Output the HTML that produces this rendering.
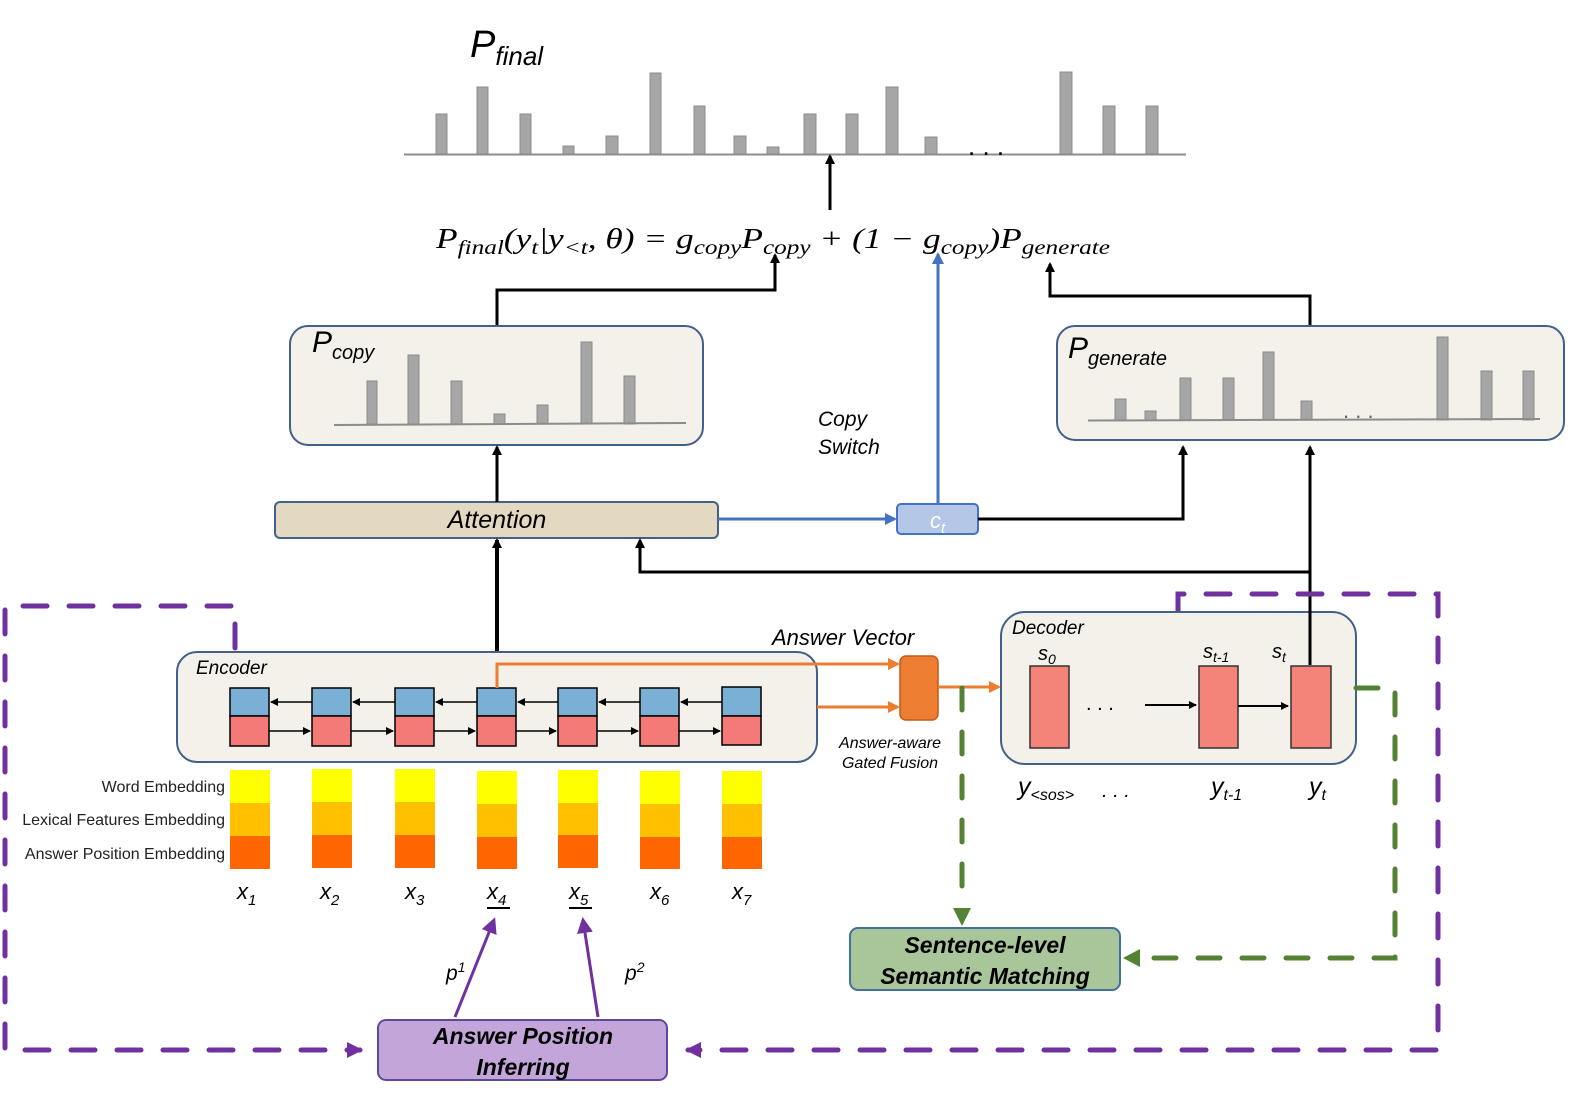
<!DOCTYPE html>
<html><head><meta charset="utf-8"><style>
html,body{margin:0;padding:0;background:#fff;}
svg{display:block;font-family:"Liberation Sans",sans-serif;}
.it{font-style:italic;}
</style></head><body>
<svg width="1578" height="1106" viewBox="0 0 1578 1106" xmlns="http://www.w3.org/2000/svg">
<defs>
<marker id="ak" markerWidth="10" markerHeight="10" refX="8" refY="5" orient="auto" markerUnits="userSpaceOnUse"><path d="M0,0 L10,5 L0,10 z" fill="#000"/></marker>
<marker id="ab" markerWidth="12" markerHeight="12" refX="10" refY="6" orient="auto" markerUnits="userSpaceOnUse"><path d="M0,0 L12,6 L0,12 z" fill="#4472c4"/></marker>
<marker id="ao" markerWidth="12" markerHeight="12" refX="10" refY="6" orient="auto" markerUnits="userSpaceOnUse"><path d="M0,0 L12,6 L0,12 z" fill="#ed7d31"/></marker>
<marker id="ap" markerWidth="16" markerHeight="16" refX="13" refY="8" orient="auto" markerUnits="userSpaceOnUse"><path d="M0,0 L16,8 L0,16 z" fill="#7030a0"/></marker>
<marker id="as" markerWidth="8" markerHeight="8" refX="7" refY="4" orient="auto" markerUnits="userSpaceOnUse"><path d="M0,0 L8,4 L0,8 z" fill="#000"/></marker>
</defs>

<!-- P_final -->
<text x="470" y="57" font-size="38" class="it">P<tspan font-size="26" dy="8">final</tspan></text>
<g fill="#a6a6a6" stroke="#8c8c8c" stroke-width="1">
<rect x="436" y="114" width="11" height="40"/><rect x="477" y="87" width="11" height="67"/>
<rect x="520" y="114" width="11" height="40"/><rect x="563" y="146" width="11" height="8"/>
<rect x="606" y="136" width="12" height="18"/><rect x="650" y="73" width="11" height="81"/>
<rect x="694" y="106" width="11" height="48"/><rect x="734" y="136" width="12" height="18"/>
<rect x="767" y="147" width="12" height="7"/><rect x="804" y="114" width="12" height="40"/>
<rect x="846" y="114" width="12" height="40"/><rect x="886" y="87" width="12" height="67"/>
<rect x="925" y="137" width="12" height="17"/><rect x="1060" y="72" width="12" height="82"/>
<rect x="1103" y="106" width="12" height="48"/><rect x="1146" y="106" width="12" height="48"/>
</g>
<line x1="404" y1="154.5" x2="1186" y2="154.5" stroke="#8c8c8c" stroke-width="2"/>
<text x="968" y="155" font-size="26">. . .</text>
<line x1="830" y1="210" x2="830" y2="156" stroke="#000" stroke-width="3" marker-end="url(#ak)"/>

<!-- formula -->
<text x="436" y="248" font-family="'Liberation Serif',serif" font-size="28" font-style="italic" textLength="674" lengthAdjust="spacingAndGlyphs">P<tspan font-size="20" dy="6">final</tspan><tspan dy="-6">(y</tspan><tspan font-size="20" dy="6">t</tspan><tspan dy="-6">|y</tspan><tspan font-size="20" dy="6">&lt;t</tspan><tspan dy="-6">, θ) = g</tspan><tspan font-size="20" dy="6">copy</tspan><tspan dy="-6">P</tspan><tspan font-size="20" dy="6">copy</tspan><tspan dy="-6"> + (1 − g</tspan><tspan font-size="20" dy="6">copy</tspan><tspan dy="-6">)P</tspan><tspan font-size="20" dy="6">generate</tspan></text>

<!-- connectors to formula -->
<polyline points="497,326 497,290 775,290 775,255" fill="none" stroke="#000" stroke-width="3" marker-end="url(#ak)"/>
<polyline points="1310,326 1310,296 1050,296 1050,264" fill="none" stroke="#000" stroke-width="3" marker-end="url(#ak)"/>
<line x1="938" y1="504" x2="938" y2="254" stroke="#4472c4" stroke-width="3" marker-end="url(#ab)"/>

<!-- Pcopy box -->
<rect x="290" y="326" width="413" height="119" rx="18" fill="#f3f1ea" stroke="#44608a" stroke-width="2"/>
<text x="312" y="352" font-size="30" class="it">P<tspan font-size="20" dy="7">copy</tspan></text>
<g fill="#a6a6a6" stroke="#8c8c8c">
<rect x="367" y="381" width="10" height="43"/><rect x="408" y="355" width="11" height="69"/>
<rect x="451" y="381" width="11" height="43"/><rect x="494" y="414" width="11" height="10"/>
<rect x="537" y="405" width="11" height="19"/><rect x="581" y="342" width="11" height="82"/>
<rect x="624" y="376" width="11" height="48"/>
</g>
<line x1="334" y1="425" x2="686" y2="423" stroke="#8c8c8c" stroke-width="2"/>

<!-- Pgenerate box -->
<rect x="1057" y="326" width="507" height="114" rx="18" fill="#f3f1ea" stroke="#44608a" stroke-width="2"/>
<text x="1068" y="358" font-size="30" class="it">P<tspan font-size="20" dy="7">generate</tspan></text>
<g fill="#a6a6a6" stroke="#8c8c8c">
<rect x="1115" y="399" width="11" height="21"/><rect x="1145" y="411" width="11" height="9"/>
<rect x="1180" y="378" width="11" height="42"/><rect x="1223" y="378" width="11" height="42"/>
<rect x="1263" y="352" width="11" height="68"/><rect x="1301" y="401" width="11" height="19"/>
<rect x="1437" y="337" width="11" height="83"/><rect x="1481" y="371" width="11" height="49"/>
<rect x="1523" y="371" width="11" height="49"/>
</g>
<line x1="1088" y1="420.5" x2="1540" y2="419" stroke="#8c8c8c" stroke-width="2"/>
<text x="1343" y="418" font-size="22" fill="#666">. . .</text>

<text x="818" y="426" font-size="21" class="it">Copy</text>
<text x="818" y="454" font-size="21" class="it">Switch</text>

<!-- Attention -->
<rect x="275" y="502" width="443" height="36" rx="5" fill="#e3d9c0" stroke="#44608a" stroke-width="2"/>
<text x="497" y="528" font-size="25" class="it" text-anchor="middle">Attention</text>
<line x1="497" y1="502" x2="497" y2="447" stroke="#000" stroke-width="3" marker-end="url(#ak)"/>
<line x1="718" y1="519" x2="895" y2="519" stroke="#4472c4" stroke-width="3" marker-end="url(#ab)"/>
<rect x="897" y="504" width="81" height="30" rx="4" fill="#b4c7e7" stroke="#4472c4" stroke-width="2"/>
<text x="930" y="528" font-size="22" fill="#fff" class="it">c<tspan font-size="15" dy="5">t</tspan></text>
<polyline points="978,519 1183,519 1183,447" fill="none" stroke="#000" stroke-width="3" marker-end="url(#ak)"/>
<line x1="1310" y1="665" x2="1310" y2="447" stroke="#000" stroke-width="3" marker-end="url(#ak)"/>
<polyline points="1310,572 640,572 640,540" fill="none" stroke="#000" stroke-width="3" marker-end="url(#ak)"/>
<line x1="497" y1="652" x2="497" y2="540" stroke="#000" stroke-width="4" marker-end="url(#ak)"/>

<!-- purple dashed -->
<g fill="none" stroke="#7030a0" stroke-width="5" stroke-dasharray="24 22" stroke-linecap="round">
<polyline points="235,648 235,606 5,606 5,1050 360,1050" marker-end="url(#ap)"/>
<polyline points="1178,612 1178,594 1438,594 1438,1050 688,1050" marker-end="url(#ap)"/>
</g>

<!-- Encoder -->
<rect x="177" y="652" width="640" height="110" rx="20" fill="#f3f1ea" stroke="#44608a" stroke-width="2"/>
<text x="196" y="674" font-size="19" class="it">Encoder</text>
<g stroke="#000" stroke-width="1.5">
<rect x="230" y="688" width="39" height="28" fill="#7ab0d6"/><rect x="230" y="716" width="39" height="30" fill="#f47a78"/>
<rect x="312" y="688" width="39" height="28" fill="#7ab0d6"/><rect x="312" y="716" width="39" height="30" fill="#f47a78"/>
<rect x="395" y="688" width="39" height="28" fill="#7ab0d6"/><rect x="395" y="716" width="39" height="30" fill="#f47a78"/>
<rect x="477" y="688" width="39" height="28" fill="#7ab0d6"/><rect x="477" y="716" width="39" height="30" fill="#f47a78"/>
<rect x="558" y="688" width="39" height="28" fill="#7ab0d6"/><rect x="558" y="716" width="39" height="30" fill="#f47a78"/>
<rect x="640" y="688" width="39" height="28" fill="#7ab0d6"/><rect x="640" y="716" width="39" height="30" fill="#f47a78"/>
<rect x="722" y="687" width="39" height="29" fill="#7ab0d6"/><rect x="722" y="716" width="39" height="29" fill="#f47a78"/>
</g>
<g stroke="#000" stroke-width="1.5">
<line x1="312" y1="702" x2="271" y2="702" marker-end="url(#as)"/>
<line x1="395" y1="702" x2="353" y2="702" marker-end="url(#as)"/>
<line x1="477" y1="702" x2="436" y2="702" marker-end="url(#as)"/>
<line x1="558" y1="702" x2="518" y2="702" marker-end="url(#as)"/>
<line x1="640" y1="702" x2="599" y2="702" marker-end="url(#as)"/>
<line x1="722" y1="702" x2="681" y2="702" marker-end="url(#as)"/>
<line x1="269" y1="731" x2="310" y2="731" marker-end="url(#as)"/>
<line x1="351" y1="731" x2="393" y2="731" marker-end="url(#as)"/>
<line x1="434" y1="731" x2="475" y2="731" marker-end="url(#as)"/>
<line x1="516" y1="731" x2="556" y2="731" marker-end="url(#as)"/>
<line x1="597" y1="731" x2="638" y2="731" marker-end="url(#as)"/>
<line x1="679" y1="731" x2="720" y2="731" marker-end="url(#as)"/>
</g>

<!-- orange -->
<polyline points="497,688 497,664 898,664" fill="none" stroke="#ed7d31" stroke-width="3" marker-end="url(#ao)"/>
<line x1="817" y1="707" x2="898" y2="707" stroke="#ed7d31" stroke-width="3" marker-end="url(#ao)"/>
<rect x="900" y="656" width="38" height="64" rx="6" fill="#ed7d31" stroke="#c55a11" stroke-width="1.5"/>
<line x1="938" y1="687" x2="999" y2="687" stroke="#ed7d31" stroke-width="3" marker-end="url(#ao)"/>
<text x="772" y="645" font-size="22" class="it">Answer Vector</text>
<text x="890" y="748" font-size="16" class="it" text-anchor="middle">Answer-aware</text>
<text x="890" y="768" font-size="16" class="it" text-anchor="middle">Gated Fusion</text>

<!-- embeddings -->
<g>
<rect x="230" y="770" width="40" height="33" fill="#ffff00"/><rect x="230" y="803" width="40" height="33" fill="#ffc000"/><rect x="230" y="836" width="40" height="33" fill="#ff6600"/>
<rect x="312" y="769" width="40" height="33" fill="#ffff00"/><rect x="312" y="802" width="40" height="33" fill="#ffc000"/><rect x="312" y="835" width="40" height="33" fill="#ff6600"/>
<rect x="395" y="769" width="40" height="33" fill="#ffff00"/><rect x="395" y="802" width="40" height="33" fill="#ffc000"/><rect x="395" y="835" width="40" height="33" fill="#ff6600"/>
<rect x="477" y="771" width="40" height="33" fill="#ffff00"/><rect x="477" y="804" width="40" height="33" fill="#ffc000"/><rect x="477" y="837" width="40" height="32" fill="#ff6600"/>
<rect x="558" y="770" width="40" height="33" fill="#ffff00"/><rect x="558" y="803" width="40" height="32" fill="#ffc000"/><rect x="558" y="835" width="40" height="33" fill="#ff6600"/>
<rect x="640" y="771" width="40" height="33" fill="#ffff00"/><rect x="640" y="804" width="40" height="33" fill="#ffc000"/><rect x="640" y="837" width="40" height="32" fill="#ff6600"/>
<rect x="722" y="771" width="40" height="33" fill="#ffff00"/><rect x="722" y="804" width="40" height="33" fill="#ffc000"/><rect x="722" y="837" width="40" height="32" fill="#ff6600"/>
</g>
<g font-size="16" text-anchor="end" fill="#222">
<text x="225" y="792">Word Embedding</text>
<text x="225" y="825">Lexical Features Embedding</text>
<text x="225" y="859">Answer Position Embedding</text>
</g>
<g font-size="22" class="it">
<text x="237" y="899">x<tspan font-size="15" dy="6">1</tspan></text>
<text x="320" y="899">x<tspan font-size="15" dy="6">2</tspan></text>
<text x="405" y="899">x<tspan font-size="15" dy="6">3</tspan></text>
<text x="487" y="899">x<tspan font-size="15" dy="6">4</tspan></text>
<text x="569" y="899">x<tspan font-size="15" dy="6">5</tspan></text>
<text x="650" y="899">x<tspan font-size="15" dy="6">6</tspan></text>
<text x="732" y="899">x<tspan font-size="15" dy="6">7</tspan></text>
</g>
<line x1="487" y1="908" x2="510" y2="908" stroke="#000" stroke-width="2"/>
<line x1="569" y1="908" x2="592" y2="908" stroke="#000" stroke-width="2"/>

<!-- p arrows -->
<line x1="455" y1="1017" x2="494" y2="920" stroke="#7030a0" stroke-width="3" marker-end="url(#ap)"/>
<line x1="598" y1="1017" x2="583" y2="920" stroke="#7030a0" stroke-width="3" marker-end="url(#ap)"/>
<text x="446" y="980" font-size="21" class="it">p<tspan font-size="14" dy="-8">1</tspan></text>
<text x="625" y="980" font-size="21" class="it">p<tspan font-size="14" dy="-8">2</tspan></text>

<!-- Decoder -->
<rect x="1001" y="612" width="355" height="152" rx="24" fill="#f3f1ea" stroke="#44608a" stroke-width="2"/>
<text x="1012" y="634" font-size="19" class="it">Decoder</text>
<g fill="#f4837a" stroke="#333" stroke-width="1.5">
<rect x="1030" y="666" width="39" height="82"/>
<rect x="1199" y="666" width="39" height="82"/>
<rect x="1291" y="666" width="40" height="82"/>
</g>
<text x="1086" y="710" font-size="20">. . .</text>
<line x1="1145" y1="705" x2="1196" y2="705" stroke="#000" stroke-width="2" marker-end="url(#as)"/>
<line x1="1238" y1="706" x2="1288" y2="706" stroke="#000" stroke-width="2" marker-end="url(#as)"/>
<line x1="1310" y1="665" x2="1310" y2="600" stroke="#000" stroke-width="3"/>
<g font-size="20" class="it">
<text x="1038" y="660">s<tspan font-size="14" dy="4">0</tspan></text>
<text x="1203" y="658">s<tspan font-size="14" dy="4">t-1</tspan></text>
<text x="1272" y="658">s<tspan font-size="14" dy="4">t</tspan></text>
</g>
<g font-size="25" class="it">
<text x="1018" y="795">y<tspan font-size="16" dy="5">&lt;sos&gt;</tspan></text>
<text x="1102" y="797" font-size="20">. . .</text>
<text x="1211" y="795">y<tspan font-size="16" dy="5">t-1</tspan></text>
<text x="1309" y="795">y<tspan font-size="16" dy="5">t</tspan></text>
</g>

<!-- green dashed -->
<g fill="none" stroke="#548235" stroke-width="5" stroke-dasharray="22 22" stroke-linecap="round">
<line x1="962" y1="688" x2="962" y2="900"/>
<polyline points="1356,688 1395,688 1395,958 1140,958"/>
</g>
<path d="M953,908 L971,908 L962,926 z" fill="#548235"/>
<path d="M1140,949 L1140,967 L1123,958 z" fill="#548235"/>

<!-- SLS -->
<rect x="850" y="928" width="270" height="62" rx="8" fill="#a9c59a" stroke="#41719c" stroke-width="2"/>
<text x="985" y="953" font-size="23" font-weight="bold" class="it" text-anchor="middle">Sentence-level</text>
<text x="985" y="984" font-size="23" font-weight="bold" class="it" text-anchor="middle">Semantic Matching</text>

<!-- API -->
<rect x="378" y="1020" width="289" height="60" rx="8" fill="#c3a5d9" stroke="#5b4a9c" stroke-width="2"/>
<text x="523" y="1044" font-size="23" font-weight="bold" class="it" text-anchor="middle">Answer Position</text>
<text x="523" y="1075" font-size="23" font-weight="bold" class="it" text-anchor="middle">Inferring</text>
</svg>
</body></html>
